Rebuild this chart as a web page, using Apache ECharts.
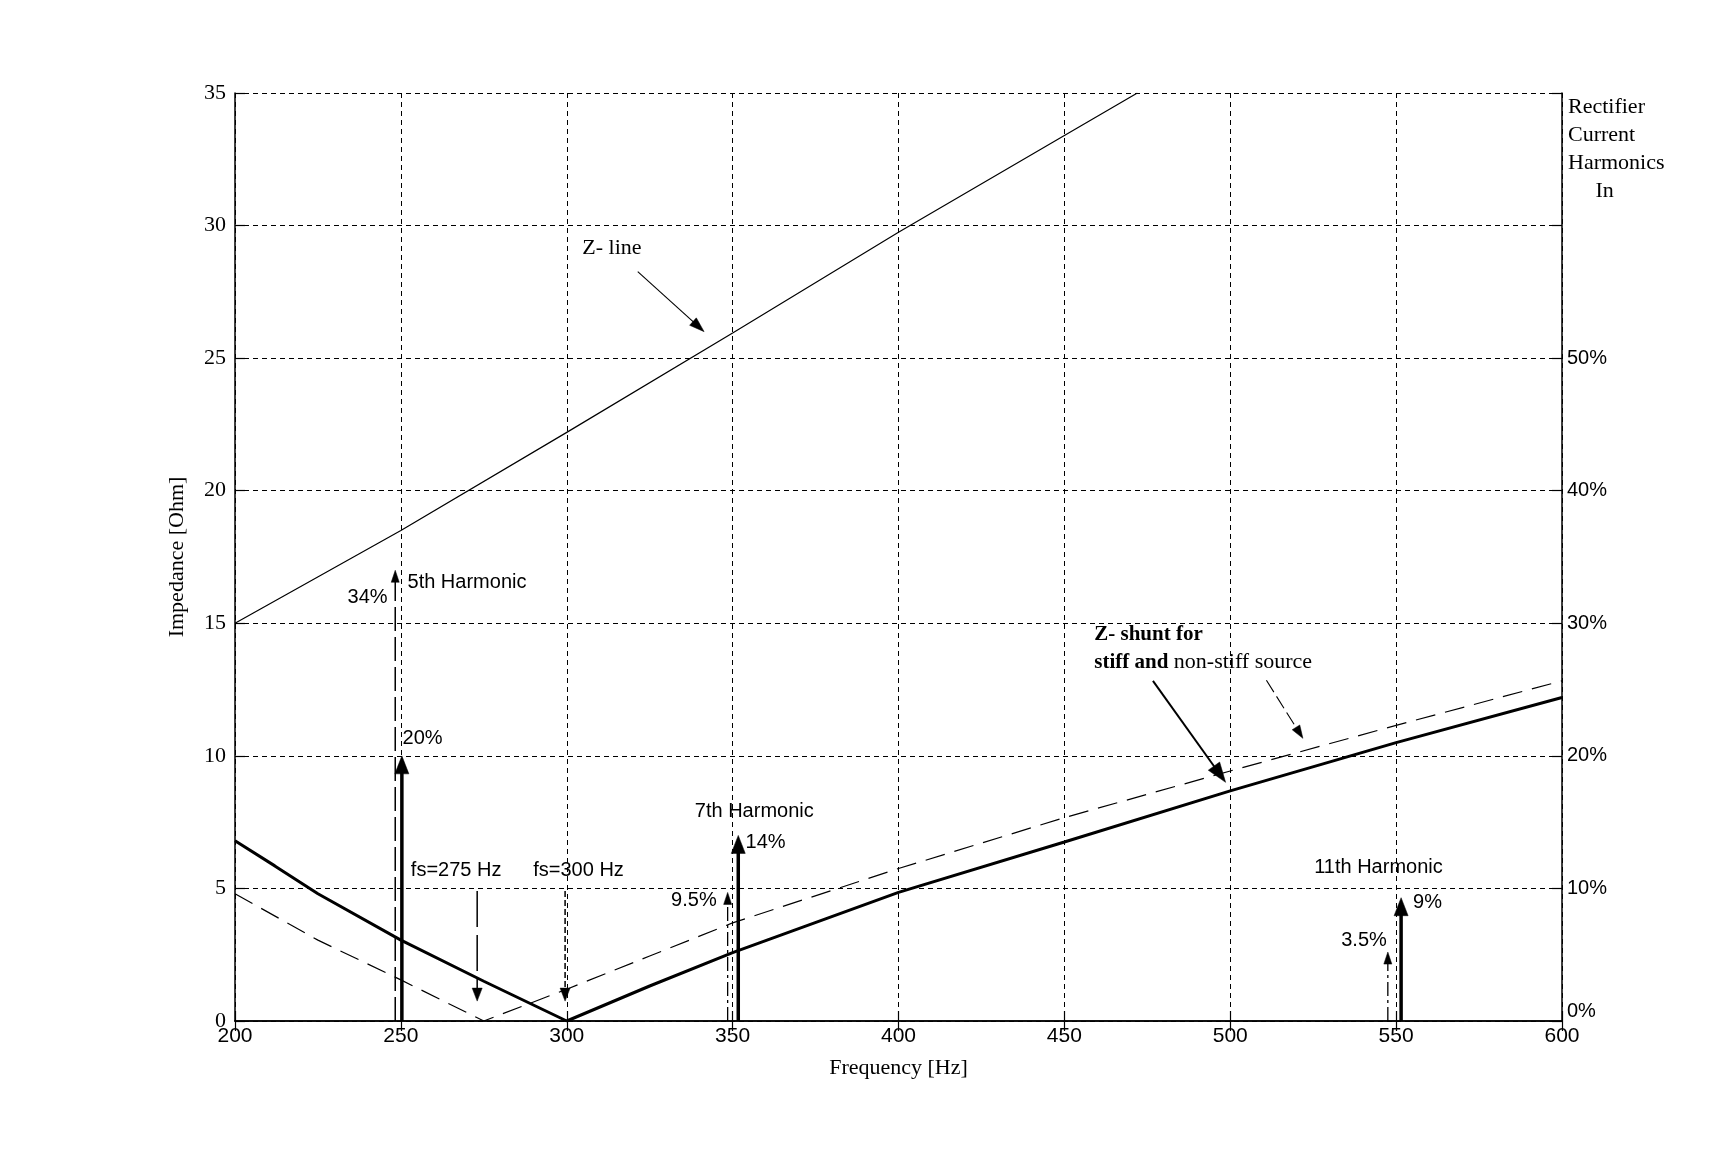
<!DOCTYPE html>
<html>
<head>
<meta charset="utf-8">
<title>Impedance vs Frequency</title>
<script src="https://cdn.jsdelivr.net/npm/echarts@6/dist/echarts.min.js"></script>
<style>
    html, body { margin: 0; padding: 0; background: #fff; }
    #main { width: 1718px; height: 1152px; }
</style>
</head>
<body>
<div id="main"></div>
<script>
    // ---- values ----
    const freqTicks = [200, 250, 300, 350, 400, 450, 500, 550, 600];

    const zLineFreq = [200, 250, 300, 350, 400, 450, 472];
    const zLineOhm = [15, 18.5, 22.2, 25.95, 29.75, 33.4, 35];

    const stiffFreq = [200, 212, 225, 250, 275, 300, 325, 350, 400, 450, 500, 550, 600];
    const stiffOhm = [6.8, 5.85, 4.8, 3.05, 1.5, 0, 1.32, 2.58, 4.85, 6.75, 8.68, 10.5, 12.2];

    const nonStiffFreq = [200, 225, 250, 275, 300, 325, 350, 400, 450, 500, 550, 600];
    const nonStiffOhm = [4.8, 3.05, 1.55, 0, 1.2, 2.45, 3.7, 5.75, 7.67, 9.43, 11.15, 12.83];

    // rectifier current harmonics (right axis, %)
    const harmFreq = [250.3, 248.3, 351.7, 348.5, 551.5, 547.5];
    const harmPct = [20, 34, 14, 9.7, 9.3, 5.2];
    const harmKind = ['bold', 'dash', 'bold', 'dashdot', 'bold', 'dashdot'];

    // resonance markers fs (left axis, Ohm)
    const fsFreq = [273, 299.5];
    const fsFrom = [4.9, 4.9];
    const fsTo = [0.75, 0.75];
    const fsKind = ['fsdash', 'fsdot'];

    // pointers from the notes to the curves
    const pointerFrom = [[321.4, 28.26], [476.7, 12.83], [510.9, 12.85]];
    const pointerTo = [[341.4, 26.0], [498.6, 9.0], [521.9, 10.66]];
    const pointerKind = ['thin', 'pointer', 'pointerdash'];

    // text notes, placed in data units (Hz, Ohm)
    const noteText = ['Z- line', '34%', '5th Harmonic', '20%', 'fs=275 Hz', 'fs=300 Hz',
        '7th Harmonic', '14%', '9.5%', '11th Harmonic', '9%', '3.5%',
        'Z- shunt for', '{b|stiff and} non-stiff source'];
    const noteFreq = [304.7, 246.0, 252.0, 250.5, 253.0, 289.9, 338.6, 353.9, 345.2, 525.3, 555.1, 547.2, 459, 459];
    const noteOhm = [29.15, 15.98, 16.54, 10.66, 5.66, 5.66, 7.92, 6.75, 4.53, 5.79, 4.47, 3.02, 14.59, 13.52];
    const noteAlign = ['left', 'right', 'left', 'left', 'left', 'left', 'left', 'left', 'right', 'left', 'left', 'right', 'left', 'left'];
    const noteFace = ['serif', 'sans', 'sans', 'sans', 'sans', 'sans', 'sans', 'sans', 'sans', 'sans', 'sans', 'sans', 'serifBold', 'serif'];

    // ---- styles ----
    const SANS = '"Liberation Sans", Arial, sans-serif';
    const SERIF = '"Liberation Serif", "Times New Roman", serif';

    const arrowKinds = {
        bold: { width: 3.5, dash: null, head: [18, 7] },
        dash: { width: 1.5, dash: [24, 6], head: [12, 4] },
        dashdot: { width: 1.3, dash: [14, 4, 3, 4], head: [12, 4] },
        fsdash: { width: 1.5, dash: [36, 8], head: [13, 5] },
        fsdot: { width: 1.5, dash: [6, 3], head: [13, 5] },
        thin: { width: 1.1, dash: null, head: [15, 5] },
        pointer: { width: 2, dash: null, head: [20, 7] },
        pointerdash: { width: 1.1, dash: [14, 5], head: [13, 4.5] }
    };
    const kindNames = Object.keys(arrowKinds);

    const faces = {
        sans: { fontFamily: SANS, fontSize: 20, fontWeight: 'normal' },
        serif: { fontFamily: SERIF, fontSize: 22, fontWeight: 'normal' },
        serifBold: { fontFamily: SERIF, fontSize: 21, fontWeight: 'bold' }
    };

    // ---- data for the library ----
    const pairs = (xs, ys) => xs.map((x, i) => [x, ys[i]]);

    const harmArrows = harmFreq.map((f, i) => [f, 0, f, harmPct[i], kindNames.indexOf(harmKind[i])]);
    const ohmArrows = fsFreq.map((f, i) => [f, fsFrom[i], f, fsTo[i], kindNames.indexOf(fsKind[i])])
        .concat(pointerFrom.map((p, i) => [p[0], p[1], pointerTo[i][0], pointerTo[i][1], kindNames.indexOf(pointerKind[i])]));
    const notes = noteFreq.map((f, i) => [f, noteOhm[i], i]);

    function renderArrow(params, api) {
        const p1 = api.coord([api.value(0), api.value(1)]);
        const p2 = api.coord([api.value(2), api.value(3)]);
        const k = arrowKinds[kindNames[api.value(4)]];
        const dx = p2[0] - p1[0];
        const dy = p2[1] - p1[1];
        const len = Math.sqrt(dx * dx + dy * dy) || 1;
        const ux = dx / len, uy = dy / len;
        const hl = k.head[0], hw = k.head[1];
        const bx = p2[0] - ux * hl, by = p2[1] - uy * hl;
        return {
            type: 'group',
            children: [
                {
                    type: 'line',
                    shape: { x1: p1[0], y1: p1[1], x2: bx + ux * 2, y2: by + uy * 2 },
                    style: { stroke: '#000', lineWidth: k.width, lineDash: k.dash, fill: null }
                },
                {
                    type: 'polygon',
                    shape: { points: [[p2[0], p2[1]], [bx - uy * hw, by + ux * hw], [bx + uy * hw, by - ux * hw]] },
                    style: { fill: '#000', stroke: '#000', lineWidth: 0.5 }
                }
            ]
        };
    }

    function renderNote(params, api) {
        const p = api.coord([api.value(0), api.value(1)]);
        const i = api.value(2);
        const face = faces[noteFace[i]];
        return {
            type: 'text',
            x: p[0],
            y: p[1],
            style: {
                text: noteText[i],
                fill: '#000',
                fontFamily: face.fontFamily,
                fontSize: face.fontSize,
                fontWeight: face.fontWeight,
                align: noteAlign[i],
                verticalAlign: 'middle',
                rich: {
                    b: { fontFamily: SERIF, fontSize: 21, fontWeight: 'bold', fill: '#000' }
                }
            }
        };
    }

    const gridDash = { color: '#000', width: 1, type: [5, 4] };
    const axisBlack = { show: true, lineStyle: { color: '#000', width: 1.5 } };
    const tickIn = { show: true, inside: true, length: 10, lineStyle: { color: '#000', width: 1.2 } };

    var chart = echarts.init(document.getElementById('main'));

    var option = {
        animation: false,
        backgroundColor: '#fff',
        grid: { left: 235, right: 156, top: 93, bottom: 131, outerBoundsMode: 'none' },
        xAxis: [
            {
                type: 'value', min: freqTicks[0], max: freqTicks[freqTicks.length - 1], interval: 50,
                name: 'Frequency [Hz]', nameLocation: 'middle', nameGap: 36,
                nameTextStyle: { fontFamily: SERIF, fontSize: 22, color: '#000' },
                axisLine: axisBlack, axisTick: tickIn,
                axisLabel: { fontFamily: SANS, fontSize: 21, color: '#000', margin: 5 },
                splitLine: { show: true, lineStyle: gridDash }
            },
            {
                type: 'value', position: 'top', min: 200, max: 600, interval: 50,
                axisLine: axisBlack, axisTick: tickIn,
                axisLabel: { show: false }, splitLine: { show: false }
            }
        ],
        yAxis: [
            {
                type: 'value', min: 0, max: 35, interval: 5,
                name: 'Impedance [Ohm]', nameLocation: 'middle', nameGap: 47,
                nameTextStyle: { fontFamily: SERIF, fontSize: 22, color: '#000' },
                axisLine: axisBlack, axisTick: tickIn,
                axisLabel: { fontFamily: SERIF, fontSize: 22, color: '#000', margin: 9 },
                splitLine: { show: true, lineStyle: gridDash }
            },
            {
                type: 'value', position: 'right', min: 0, max: 70, interval: 10,
                name: 'Rectifier\nCurrent\nHarmonics\n     In', nameLocation: 'end', nameGap: 0,
                nameTextStyle: {
                    fontFamily: SERIF, fontSize: 22, color: '#000', lineHeight: 28,
                    align: 'left', verticalAlign: 'top', padding: [0, 0, 0, 6]
                },
                axisLine: axisBlack, axisTick: tickIn,
                axisLabel: {
                    fontFamily: SANS, fontSize: 20, color: '#000', margin: 5,
                    formatter: v => (v === 0 ? '{z|0%}' : v <= 50 ? v + '%' : ''),
                    rich: { z: { fontFamily: SANS, fontSize: 20, color: '#000', padding: [0, 0, 20, 0] } }
                },
                splitLine: { show: false }
            }
        ],
        series: [
            {
                name: 'Z- line', type: 'line', data: pairs(zLineFreq, zLineOhm),
                showSymbol: false, symbol: 'none', silent: true,
                lineStyle: { color: '#000', width: 1.2 }
            },
            {
                name: 'Z- shunt stiff', type: 'line', data: pairs(stiffFreq, stiffOhm),
                showSymbol: false, symbol: 'none', silent: true,
                lineStyle: { color: '#000', width: 3 }
            },
            {
                name: 'Z- shunt non-stiff', type: 'line', data: pairs(nonStiffFreq, nonStiffOhm),
                showSymbol: false, symbol: 'none', silent: true,
                lineStyle: { color: '#000', width: 1.2, type: [20, 10] }
            },
            {
                name: 'Harmonics', type: 'custom', yAxisIndex: 1, silent: true,
                renderItem: renderArrow, data: harmArrows
            },
            {
                name: 'Markers', type: 'custom', yAxisIndex: 0, silent: true,
                renderItem: renderArrow, data: ohmArrows
            },
            {
                name: 'Notes', type: 'custom', yAxisIndex: 0, silent: true,
                renderItem: renderNote, data: notes
            }
        ]
    };

    chart.setOption(option);
</script>
</body>
</html>
